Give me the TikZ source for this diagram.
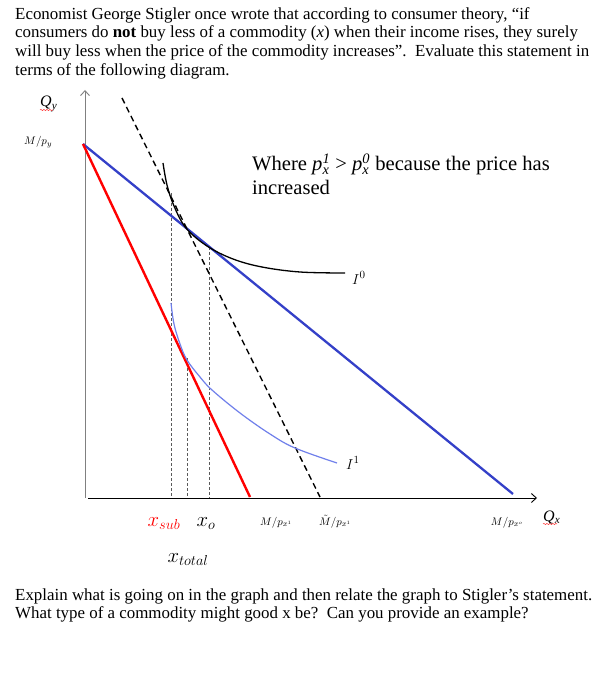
\documentclass[tikz,border=0pt]{standalone}
\usepackage{fontspec}
\setmainfont{Liberation Serif}
\usetikzlibrary{arrows.meta,decorations.pathmorphing}
\definecolor{bline}{RGB}{52,64,200}
\definecolor{icurve}{RGB}{112,128,235}
\definecolor{guidegray}{RGB}{90,90,90}
\begin{document}
\begin{tikzpicture}[x=1pt,y=-1pt,
  bodytext/.style={anchor=base west,inner sep=0pt,font=\fontsize{16.9}{19}\selectfont},
  notetext/.style={anchor=base west,inner sep=0pt,font=\fontsize{20.6}{24}\selectfont},
  axislbl/.style={anchor=base west,inner sep=0pt,font=\fontsize{16}{18}\selectfont},
  smallm/.style={anchor=base,inner sep=0pt,font=\fontsize{11}{13}\selectfont},
  bigm/.style={anchor=base,inner sep=0pt,font=\fontsize{21}{24}\selectfont},
  curvelbl/.style={anchor=base west,inner sep=0pt,font=\fontsize{15}{17}\selectfont},
  axisline/.style={line width=0.9pt,-{Straight Barb[length=5pt,width=9pt]}},
  budgetzero/.style={draw=bline,line width=2.3pt},
  budgetone/.style={draw=red,line width=2.4pt},
  compline/.style={draw=black,line width=1.4pt,dash pattern=on 6pt off 4pt},
  guideline/.style={draw=guidegray,line width=0.8pt,dash pattern=on 3pt off 2pt},
  izero/.style={draw=black,line width=1.3pt},
  ione/.style={draw=icurve,line width=1.2pt},
  squig/.style={draw=red!80,line width=0.5pt,decorate,decoration={snake,amplitude=0.6pt,segment length=3pt}}
]
\useasboundingbox[fill=white] (0,0) rectangle (610,692);

% question text
\node[bodytext] (q1) at (15,19.3) {Economist George Stigler once wrote that according to consumer theory, “if};
\node[bodytext] (q2) at (15,38) {consumers do \textbf{not} buy less of a commodity (\textit{x}) when their income rises, they surely};
\node[bodytext] (q3) at (15,56.7) {will buy less when the price of the commodity increases”.\ \ Evaluate this statement in};
\node[bodytext] (q4) at (15,75.3) {terms of the following diagram.};

\node[bodytext] (e1) at (15,600) {Explain what is going on in the graph and then relate the graph to Stigler’s statement.};
\node[bodytext] (e2) at (15,618.5) {What type of a commodity might good x be?\ \ Can you provide an example?};

% coordinates
\coordinate (O) at (85,498);
\coordinate (ytop) at (85,90);
\coordinate (xs) at (88,498);
\coordinate (xend) at (537,498);
\coordinate (A) at (83,144);
\coordinate (bend) at (513,494);
\coordinate (rend) at (250,497);
\coordinate (dtop) at (122,98);
\coordinate (dend) at (320,497);
\coordinate (g1t) at (171,193);
\coordinate (g1b) at (171,498);
\coordinate (g2t) at (187,358);
\coordinate (g2b) at (187,498);
\coordinate (g3t) at (209,247);
\coordinate (g3b) at (209,498);

% guides
\draw[guideline] (g1t) -- (g1b);
\draw[guideline] (g2t) -- (g2b);
\draw[guideline] (g3t) -- (g3b);

% axes
\draw[axisline,draw=gray] (O) -- (ytop);
\draw[axisline] (xs) -- (xend);

% budget lines
\draw[budgetzero] (A) -- (bend);
\draw[budgetone] (A) -- (rend);
\draw[compline] (dtop) -- (dend);

% indifference curves
\draw[izero] plot[smooth,tension=0.6] coordinates {(163,163) (167,185) (174,206) (186,228) (207,246) (233,259) (262,267) (300,272) (345,273)};
\draw[ione] plot[smooth,tension=0.6] coordinates {(171,303) (174,324) (180,344) (187,360) (200,377) (212,390) (240,413) (270,434) (295,448) (337,463)};

% labels
\node[axislbl] (Qy) at (40,107) {\textit{Q}\textsubscript{\textit{y}}};
\draw[squig] (40,110) -- (53,110);
\node[axislbl] (Qx) at (543,521) {\textit{Q}\textsubscript{\textit{x}}};
\draw[squig] (543,524) -- (557,524);
\node[smallm,anchor=base west] (Mpy) at (24,145) {$M/p_y$};
\node[smallm] (Mpx1) at (276,525) {$M/p_{x^1}$};
\node[smallm] (Mtpx1) at (335,525) {$\tilde M/p_{x^1}$};
\node[smallm] (Mpx0) at (507,525) {$M/p_{x^o}$};
\node[bigm,text=red] (xsub) at (164,526) {$x_{sub}$};
\node[bigm] (xon) at (206,526) {$x_o$};
\node[bigm] (xtot) at (188,562) {$x_{total}$};
\node[curvelbl] (I0) at (352,284) {$I^0$};
\node[curvelbl] (I1) at (346,469) {$I^1$};

\node[notetext] (n1) at (252,171) {Where \textit{p}\rlap{\textsubscript{\textit{x}}}\textsuperscript{\textit{1}} > \textit{p}\rlap{\textsubscript{\textit{x}}}\textsuperscript{\textit{0}} because the price has};
\node[notetext] (n2) at (252,195) {increased};
\end{tikzpicture}
\end{document}
